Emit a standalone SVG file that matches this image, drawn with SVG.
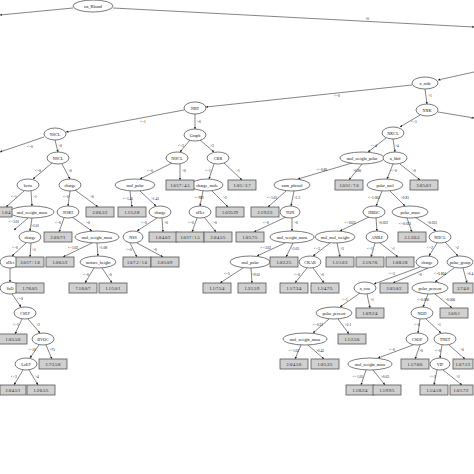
<svg xmlns="http://www.w3.org/2000/svg" width="474" height="474" viewBox="0 0 474 474">
<style>
.n ellipse{fill:#fff;stroke:#222;stroke-width:0.6}
.l rect{fill:#d0d0d0;stroke:#555;stroke-width:0.8}
text{font-family:"Liberation Serif",serif;font-size:4.2px;fill:#111;text-anchor:middle;dominant-baseline:central}
#edges line{stroke:#333;stroke-width:0.6;marker-end:url(#a)}
#edges text{font-size:3.6px}
</style>
<defs><marker id="a" viewBox="0 0 6 6" refX="6" refY="3" markerWidth="4" markerHeight="4" orient="auto"><path d="M0,0L6,3L0,6z" fill="#222"/></marker></defs>
<rect width="474" height="474" fill="#fff"/>
<g id="edges">
<line x1="73" y1="8" x2="0" y2="15"/><line x1="113" y1="8" x2="474" y2="27"/><text x="367" y="19">&gt;0</text>
<line x1="474" y1="72" x2="438" y2="80"/>
<line x1="412" y1="85" x2="206" y2="107"/><text x="337" y="96">&lt;=0</text>
<line x1="425" y1="89" x2="427" y2="104"/><text x="430" y="96">&gt;1</text>
<line x1="438" y1="112" x2="474" y2="118"/>
<line x1="420" y1="115" x2="400" y2="127"/><text x="414" y="122">&lt;=1</text>
<line x1="184" y1="110" x2="66" y2="132"/><text x="143" y="122">&lt;=1</text>
<line x1="195" y1="114" x2="195" y2="129"/><text x="199" y="122">&gt;0</text>
<line x1="44" y1="137" x2="0" y2="152"/><text x="30" y="147">&lt;=0</text>
<line x1="55" y1="140" x2="58" y2="152"/><text x="60" y="146">&gt;0</text>
<line x1="190" y1="140" x2="180" y2="152"/><text x="181" y="146">&lt;=3</text>
<line x1="200" y1="140" x2="214" y2="152"/><text x="212" y="146">&gt;3</text>
<line x1="386" y1="138" x2="368" y2="152"/><text x="374" y="146">&lt;=4</text>
<line x1="393" y1="139" x2="395" y2="152"/><text x="397" y="146">&gt;4</text>
<line x1="52" y1="163" x2="33" y2="179"/><text x="38" y="171">&lt;=0</text>
<line x1="62" y1="164" x2="70" y2="179"/><text x="70" y="171">&gt;0</text>
<line x1="172" y1="163" x2="140" y2="179"/><text x="150" y="171">&lt;=0</text>
<line x1="180" y1="164" x2="180" y2="180"/><text x="184" y="171">&gt;0</text>
<line x1="214" y1="164" x2="209" y2="179"/><text x="208" y="171">&lt;=1</text>
<line x1="224" y1="163" x2="242" y2="180"/><text x="238" y="171">&gt;1</text>
<line x1="352" y1="163" x2="298" y2="179"/><text x="322" y="170">&lt;=0.80</text>
<line x1="362" y1="164" x2="349" y2="180"/><text x="357" y="171">&gt;0.80</text>
<line x1="393" y1="164" x2="387" y2="179"/><text x="394" y="171">&lt;=0</text>
<line x1="400" y1="164" x2="420" y2="180"/><text x="414" y="171">&gt;0</text>
<line x1="24" y1="191" x2="6" y2="207"/><text x="14" y="197">&lt;=1</text>
<line x1="31" y1="191" x2="32" y2="206"/><text x="35" y="197">&gt;1</text>
<line x1="70" y1="191" x2="68" y2="206"/><text x="66" y="197">&lt;=0</text>
<line x1="75" y1="190" x2="98" y2="207"/><text x="92" y="197">&gt;0</text>
<line x1="130" y1="191" x2="132" y2="207"/><text x="128" y="199">&lt;=1.41</text>
<line x1="140" y1="191" x2="156" y2="206"/><text x="155" y="199">&gt;1.41</text>
<line x1="203" y1="191" x2="200" y2="206"/><text x="199" y="198">&lt;=NH</text>
<line x1="212" y1="191" x2="228" y2="207"/><text x="225" y="198">&gt;2</text>
<line x1="286" y1="191" x2="268" y2="207"/><text x="272" y="198">&lt;=1.03</text>
<line x1="294" y1="191" x2="291" y2="206"/><text x="297" y="198">&gt;1.3</text>
<line x1="382" y1="191" x2="376" y2="206"/><text x="374" y="198">&lt;=1.062</text>
<line x1="390" y1="191" x2="405" y2="206"/><text x="405" y="198">&gt;0.81</text>
<line x1="28" y1="218" x2="14" y2="230"/><text x="14" y="222">&lt;=3.01</text>
<line x1="32" y1="218" x2="30" y2="231"/><text x="35" y="226">&gt;3.01</text>
<line x1="64" y1="218" x2="59" y2="232"/><text x="58" y="223">&lt;=0</text>
<line x1="72" y1="217" x2="92" y2="231"/><text x="88" y="223">&gt;0</text>
<line x1="157" y1="218" x2="137" y2="231"/><text x="144" y="223">&lt;=0</text>
<line x1="162" y1="218" x2="163" y2="232"/><text x="166" y="223">&gt;0</text>
<line x1="197" y1="218" x2="192" y2="232"/><text x="191" y="223">&lt;=0</text>
<line x1="204" y1="217" x2="216" y2="232"/><text x="215" y="223">&gt;0</text>
<line x1="286" y1="217" x2="254" y2="232"/><text x="266" y="223">&lt;=0</text>
<line x1="292" y1="218" x2="292" y2="231"/><text x="296" y="223">&gt;0</text>
<line x1="369" y1="217" x2="340" y2="231"/><text x="350" y="223">&lt;=1022</text>
<line x1="376" y1="218" x2="377" y2="231"/><text x="383" y="223">&gt;0.022</text>
<line x1="407" y1="218" x2="412" y2="232"/><text x="405" y="224">&lt;=0.031</text>
<line x1="415" y1="217" x2="436" y2="231"/><text x="432" y="223">&gt;0.031</text>
<line x1="26" y1="243" x2="12" y2="256"/><text x="15" y="248">&lt;=0</text>
<line x1="31" y1="243" x2="30" y2="257"/><text x="34" y="250">&gt;1</text>
<line x1="92" y1="243" x2="63" y2="257"/><text x="73" y="248">&lt;=1.02</text>
<line x1="97" y1="243" x2="98" y2="256"/><text x="103" y="248">&gt;1.08</text>
<line x1="130" y1="243" x2="137" y2="257"/><text x="129" y="250">&lt;=0</text>
<line x1="137" y1="243" x2="163" y2="257"/><text x="155" y="250">&gt;0</text>
<line x1="285" y1="243" x2="257" y2="256"/><text x="266" y="248">&lt;=3.02</text>
<line x1="293" y1="243" x2="286" y2="257"/><text x="295" y="249">&gt;3.03</text>
<line x1="330" y1="243" x2="313" y2="256"/><text x="317" y="249">&lt;=3</text>
<line x1="337" y1="243" x2="340" y2="257"/><text x="342" y="249">&gt;3</text>
<line x1="375" y1="243" x2="371" y2="257"/><text x="370" y="249">&lt;=1</text>
<line x1="380" y1="243" x2="398" y2="257"/><text x="393" y="249">&gt;1</text>
<line x1="437" y1="243" x2="429" y2="256"/><text x="430" y="248">&lt;=2</text>
<line x1="445" y1="242" x2="458" y2="256"/><text x="457" y="248">&gt;2</text>
<line x1="10" y1="268" x2="10" y2="282"/>
<line x1="94" y1="268" x2="85" y2="283"/><text x="86" y="275">&lt;=0</text>
<line x1="102" y1="268" x2="112" y2="283"/><text x="110" y="275">&gt;0</text>
<line x1="243" y1="268" x2="220" y2="283"/><text x="227" y="274">&lt;=5</text>
<line x1="251" y1="268" x2="252" y2="283"/><text x="256" y="275">&gt;9.02</text>
<line x1="307" y1="268" x2="295" y2="283"/><text x="297" y="275">&lt;=0</text>
<line x1="313" y1="268" x2="324" y2="283"/><text x="322" y="275">&gt;0</text>
<line x1="420" y1="267" x2="374" y2="284"/><text x="392" y="274">&lt;=3</text>
<line x1="428" y1="268" x2="393" y2="283"/><text x="420" y="275">&gt;0</text>
<line x1="454" y1="268" x2="435" y2="282"/><text x="440" y="274">&lt;=0.864</text>
<line x1="463" y1="268" x2="467" y2="283"/><text x="470" y="274">&gt;0.4</text>
<line x1="12" y1="294" x2="21" y2="307"/><text x="20" y="299">&lt;=0</text>
<line x1="360" y1="293" x2="340" y2="307"/><text x="345" y="300">&lt;=1</text>
<line x1="367" y1="294" x2="370" y2="308"/><text x="372" y="300">&gt;1</text>
<line x1="428" y1="294" x2="423" y2="307"/><text x="423" y="300">&lt;=0.006</text>
<line x1="435" y1="294" x2="452" y2="308"/><text x="450" y="300">&gt;0.006</text>
<line x1="22" y1="319" x2="15" y2="334"/><text x="16" y="325">&lt;=1</text>
<line x1="28" y1="319" x2="40" y2="333"/><text x="38" y="325">&gt;2</text>
<line x1="329" y1="319" x2="313" y2="333"/><text x="318" y="325">&lt;=0.22</text>
<line x1="338" y1="319" x2="349" y2="334"/><text x="348" y="325">&gt;2.1</text>
<line x1="420" y1="319" x2="418" y2="333"/><text x="417" y="325">&lt;=0</text>
<line x1="426" y1="319" x2="441" y2="333"/><text x="439" y="325">&gt;1</text>
<line x1="39" y1="345" x2="30" y2="358"/><text x="32" y="350">&lt;=10</text>
<line x1="46" y1="345" x2="52" y2="359"/><text x="52" y="350">&gt;75</text>
<line x1="413" y1="345" x2="378" y2="358"/><text x="392" y="350">&lt;=0</text>
<line x1="420" y1="345" x2="415" y2="359"/><text x="421" y="351">&gt;0</text>
<line x1="442" y1="345" x2="440" y2="358"/><text x="438" y="351">&lt;=0</text>
<line x1="449" y1="345" x2="465" y2="359"/><text x="462" y="350">&gt;0</text>
<line x1="301" y1="345" x2="295" y2="359"/><text x="294" y="351">&lt;=1.02</text>
<line x1="308" y1="345" x2="324" y2="359"/><text x="320" y="351">&gt;0.42</text>
<line x1="23" y1="370" x2="14" y2="385"/><text x="14" y="377">&lt;=3</text>
<line x1="29" y1="370" x2="38" y2="385"/><text x="37" y="377">&gt;4</text>
<line x1="366" y1="370" x2="361" y2="385"/><text x="358" y="377">&lt;=1.05</text>
<line x1="373" y1="370" x2="385" y2="385"/><text x="385" y="377">&gt;0.03</text>
<line x1="437" y1="370" x2="434" y2="385"/><text x="433" y="377">&lt;=2</text>
<line x1="443" y1="370" x2="462" y2="385"/><text x="458" y="377">&gt;5</text>
</g>
<g id="nodes">
<g id="n_root" class="n"><ellipse cx="93" cy="6" rx="20" ry="6"/><text x="93" y="6">tot_Kbond</text></g>
<g id="n_nrotb" class="n"><ellipse cx="425" cy="83" rx="13" ry="6"/><text x="425" y="83">n_rotb</text></g>
<g id="n_NRT" class="n"><ellipse cx="195" cy="108" rx="11" ry="6"/><text x="195" y="108">NRT</text></g>
<g id="n_NXK" class="n"><ellipse cx="427" cy="110" rx="11" ry="6"/><text x="427" y="110">NXK</text></g>
<g id="n_NSCL" class="n"><ellipse cx="55" cy="134" rx="11" ry="6"/><text x="55" y="134">NSCL</text></g>
<g id="n_graph" class="n"><ellipse cx="195" cy="135" rx="11" ry="6"/><text x="195" y="135">Graph</text></g>
<g id="n_NKCL" class="n"><ellipse cx="393" cy="133" rx="11" ry="6"/><text x="393" y="133">NKCL</text></g>
<g id="n_NSCL2" class="n"><ellipse cx="58" cy="158" rx="11" ry="6"/><text x="58" y="158">NSCL</text></g>
<g id="n_NHCL" class="n"><ellipse cx="177" cy="158" rx="11" ry="6"/><text x="177" y="158">NHCL</text></g>
<g id="n_CBR" class="n"><ellipse cx="218" cy="158" rx="11" ry="6"/><text x="218" y="158">CBR</text></g>
<g id="n_mwp" class="n"><ellipse cx="362" cy="158" rx="22" ry="6"/><text x="362" y="158">mol_weight_polar</text></g>
<g id="n_nhbd" class="n"><ellipse cx="395" cy="158" rx="12" ry="6"/><text x="395" y="158">n_hbd</text></g>
<g id="n_bertz" class="n"><ellipse cx="28" cy="185" rx="11" ry="6"/><text x="28" y="185">bertz</text></g>
<g id="n_chargt" class="n"><ellipse cx="70" cy="185" rx="11" ry="6"/><text x="70" y="185">charge</text></g>
<g id="n_molp" class="n"><ellipse cx="135" cy="185" rx="20" ry="6"/><text x="135" y="185">mol_polar</text></g>
<g id="n_chm" class="n"><ellipse cx="207" cy="185" rx="16" ry="6"/><text x="207" y="185">charge_mole</text></g>
<g id="n_numphen" class="n"><ellipse cx="292" cy="185" rx="18" ry="6"/><text x="292" y="185">num_phenol</text></g>
<g id="n_polmol" class="n"><ellipse cx="385" cy="185" rx="18" ry="6"/><text x="385" y="185">polar_mol</text></g>
<g id="n_mwm" class="n"><ellipse cx="32" cy="212" rx="22" ry="6"/><text x="32" y="212">mol_weight_mass</text></g>
<g id="n_NSKI" class="n"><ellipse cx="68" cy="212" rx="11" ry="6"/><text x="68" y="212">NSKI</text></g>
<g id="n_charge" class="n"><ellipse cx="160" cy="212" rx="11" ry="6"/><text x="160" y="212">charge</text></g>
<g id="n_nHet" class="n"><ellipse cx="200" cy="212" rx="11" ry="6"/><text x="200" y="212">nHet</text></g>
<g id="n_TON" class="n"><ellipse cx="290" cy="212" rx="10" ry="6"/><text x="290" y="212">TON</text></g>
<g id="n_HBDC" class="n"><ellipse cx="374" cy="212" rx="11" ry="6"/><text x="374" y="212">HBDC</text></g>
<g id="n_polmass" class="n"><ellipse cx="410" cy="212" rx="18" ry="6"/><text x="410" y="212">polar_mass</text></g>
<g id="n_chargt2" class="n"><ellipse cx="30" cy="237" rx="11" ry="6"/><text x="30" y="237">charge</text></g>
<g id="n_mwm2" class="n"><ellipse cx="97" cy="237" rx="22" ry="6"/><text x="97" y="237">mol_weight_mass</text></g>
<g id="n_NSS" class="n"><ellipse cx="133" cy="237" rx="10" ry="6"/><text x="133" y="237">NSS</text></g>
<g id="n_mwm3" class="n"><ellipse cx="292" cy="237" rx="22" ry="6"/><text x="292" y="237">mol_weight_mass</text></g>
<g id="n_mmw" class="n"><ellipse cx="335" cy="237" rx="20" ry="6"/><text x="335" y="237">mol_mol_weight</text></g>
<g id="n_ANBZ" class="n"><ellipse cx="377" cy="237" rx="11" ry="6"/><text x="377" y="237">ANBZ</text></g>
<g id="n_NHCL2" class="n"><ellipse cx="440" cy="237" rx="11" ry="6"/><text x="440" y="237">NHCL</text></g>
<g id="n_e1" class="n"><ellipse cx="10" cy="262" rx="10" ry="6"/><text x="10" y="262">nHet</text></g>
<g id="n_surf" class="n"><ellipse cx="98" cy="262" rx="18" ry="6"/><text x="98" y="262">surface_height</text></g>
<g id="n_molpolar" class="n"><ellipse cx="250" cy="262" rx="20" ry="6"/><text x="250" y="262">mol_polar</text></g>
<g id="n_CKAR" class="n"><ellipse cx="310" cy="262" rx="11" ry="6"/><text x="310" y="262">CKAR</text></g>
<g id="n_charge2" class="n"><ellipse cx="427" cy="262" rx="11" ry="6"/><text x="427" y="262">charge</text></g>
<g id="n_polgrp" class="n"><ellipse cx="460" cy="262" rx="13" ry="6"/><text x="460" y="262">polar_group</text></g>
<g id="n_e2" class="n"><ellipse cx="10" cy="288" rx="10" ry="6"/><text x="10" y="288">SsO</text></g>
<g id="n_nrow" class="n"><ellipse cx="365" cy="288" rx="11" ry="6"/><text x="365" y="288">n_row</text></g>
<g id="n_polperc" class="n"><ellipse cx="430" cy="288" rx="18" ry="6"/><text x="430" y="288">polar_percent</text></g>
<g id="n_CSEF" class="n"><ellipse cx="25" cy="313" rx="11" ry="6"/><text x="25" y="313">CSEF</text></g>
<g id="n_polperc2" class="n"><ellipse cx="334" cy="313" rx="18" ry="6"/><text x="334" y="313">polar_percent</text></g>
<g id="n_NOH" class="n"><ellipse cx="422" cy="313" rx="11" ry="6"/><text x="422" y="313">NOH</text></g>
<g id="n_BVOC" class="n"><ellipse cx="43" cy="339" rx="11" ry="6"/><text x="43" y="339">BVOC</text></g>
<g id="n_mwm4" class="n"><ellipse cx="305" cy="339" rx="22" ry="6"/><text x="305" y="339">mol_weight_mass</text></g>
<g id="n_CSOF" class="n"><ellipse cx="417" cy="339" rx="11" ry="6"/><text x="417" y="339">CSOF</text></g>
<g id="n_TNET" class="n"><ellipse cx="445" cy="339" rx="11" ry="6"/><text x="445" y="339">TNET</text></g>
<g id="n_LoEF" class="n"><ellipse cx="26" cy="364" rx="11" ry="6"/><text x="26" y="364">LoEF</text></g>
<g id="n_mwm5" class="n"><ellipse cx="370" cy="364" rx="22" ry="6"/><text x="370" y="364">mol_weight_mass</text></g>
<g id="n_VIF" class="n"><ellipse cx="440" cy="364" rx="10" ry="6"/><text x="440" y="364">VIF</text></g>
</g>
<g id="leaves" class="l">
<g id="l1"><rect x="166" y="180" width="28" height="10"/><text x="180" y="185">1.0/17 / 4.5</text></g>
<g id="l2"><rect x="228" y="180" width="28" height="10"/><text x="242" y="185">1.0/5 / 2.7</text></g>
<g id="l3"><rect x="335" y="180" width="28" height="10"/><text x="349" y="185">1.0/51 / 7.0</text></g>
<g id="l4"><rect x="410" y="180" width="28" height="10"/><text x="424" y="185">3.0/5.0/1</text></g>
<g id="l5"><rect x="-4" y="207" width="16" height="10"/><text x="6" y="212">1.0/4</text></g>
<g id="l6"><rect x="86" y="207" width="28" height="10"/><text x="100" y="212">2.0/6.3/2</text></g>
<g id="l7"><rect x="118" y="207" width="28" height="10"/><text x="132" y="212">1.1/5.2/8</text></g>
<g id="l8"><rect x="216" y="207" width="28" height="10"/><text x="230" y="212">1.0/25/29</text></g>
<g id="l9"><rect x="251" y="207" width="28" height="10"/><text x="265" y="212">2.1/9.2/3</text></g>
<g id="l10"><rect x="44" y="232" width="28" height="10"/><text x="58" y="237">2.0/0.7/1</text></g>
<g id="l11"><rect x="149" y="232" width="28" height="10"/><text x="163" y="237">1.0/4.0/2</text></g>
<g id="l12"><rect x="176" y="232" width="28" height="10"/><text x="190" y="237">1.0/17 / 1.5</text></g>
<g id="l13"><rect x="204" y="232" width="28" height="10"/><text x="218" y="237">2.0/4.5/5</text></g>
<g id="l14"><rect x="236" y="232" width="28" height="10"/><text x="250" y="237">1.0/5.7/5</text></g>
<g id="l15"><rect x="398" y="232" width="28" height="10"/><text x="412" y="237">2.1.3/6.3</text></g>
<g id="l16"><rect x="16" y="257" width="28" height="10"/><text x="30" y="262">2.0/17 / 1.8</text></g>
<g id="l17"><rect x="46" y="257" width="28" height="10"/><text x="60" y="262">1.0/6.5/2</text></g>
<g id="l18"><rect x="123" y="257" width="28" height="10"/><text x="137" y="262">1.0/7.2 / 1.6</text></g>
<g id="l19"><rect x="151" y="257" width="28" height="10"/><text x="165" y="262">2.0/5.0/9</text></g>
<g id="l20"><rect x="270" y="257" width="28" height="10"/><text x="284" y="262">1.0/2.2/5</text></g>
<g id="l21"><rect x="326" y="257" width="28" height="10"/><text x="340" y="262">1.1/1.0/3</text></g>
<g id="l22"><rect x="356" y="257" width="28" height="10"/><text x="370" y="262">2.1/0.7/6</text></g>
<g id="l23"><rect x="386" y="257" width="28" height="10"/><text x="400" y="262">1.0/8.1/8</text></g>
<g id="l24"><rect x="16" y="283" width="28" height="10"/><text x="30" y="288">1.7/6.0/5</text></g>
<g id="l25"><rect x="69" y="283" width="28" height="10"/><text x="83" y="288">7.1/6.0/7</text></g>
<g id="l26"><rect x="99" y="283" width="28" height="10"/><text x="113" y="288">1.1/5.0/1</text></g>
<g id="l27"><rect x="203" y="283" width="28" height="10"/><text x="217" y="288">1.1/7.5/4</text></g>
<g id="l28"><rect x="238" y="283" width="28" height="10"/><text x="252" y="288">1.3/1.5/9</text></g>
<g id="l29"><rect x="280" y="283" width="28" height="10"/><text x="294" y="288">1.1/7.3/4</text></g>
<g id="l30"><rect x="311" y="283" width="28" height="10"/><text x="325" y="288">1.1/4.7/5</text></g>
<g id="l31"><rect x="380" y="283" width="28" height="10"/><text x="394" y="288">2.0/5.0/2</text></g>
<g id="l32"><rect x="453" y="283" width="20" height="10"/><text x="463" y="288">3.7/4.0</text></g>
<g id="l33"><rect x="356" y="308" width="28" height="10"/><text x="370" y="313">1.0/9.2/4</text></g>
<g id="l34"><rect x="440" y="308" width="28" height="10"/><text x="454" y="313">2.0/0.1</text></g>
<g id="l35"><rect x="-1" y="334" width="28" height="10"/><text x="13" y="339">1.0/5.5/6</text></g>
<g id="l36"><rect x="338" y="334" width="28" height="10"/><text x="352" y="339">1.1/2.5/6</text></g>
<g id="l37"><rect x="39" y="359" width="28" height="10"/><text x="53" y="364">2.7/3.5/8</text></g>
<g id="l38"><rect x="280" y="359" width="28" height="10"/><text x="294" y="364">2.0/4.5/6</text></g>
<g id="l39"><rect x="311" y="359" width="28" height="10"/><text x="325" y="364">1.0/5.3/5</text></g>
<g id="l40"><rect x="401" y="359" width="28" height="10"/><text x="415" y="364">1.1/7.8/6</text></g>
<g id="l41"><rect x="453" y="359" width="20" height="10"/><text x="463" y="364">1.0/7.1/2</text></g>
<g id="l42"><rect x="0" y="385" width="26" height="10"/><text x="13" y="390">2.0/4.5/1</text></g>
<g id="l43"><rect x="27" y="385" width="28" height="10"/><text x="41" y="390">1.2/6.5/5</text></g>
<g id="l44"><rect x="346" y="385" width="28" height="10"/><text x="360" y="390">1.1/8.2/4</text></g>
<g id="l45"><rect x="373" y="385" width="28" height="10"/><text x="387" y="390">1.1/9.9/5</text></g>
<g id="l46"><rect x="420" y="385" width="28" height="10"/><text x="434" y="390">1.1/4.1/8</text></g>
<g id="l47"><rect x="450" y="385" width="23" height="10"/><text x="461" y="390">1.0/1.7/2</text></g>
</g>
</svg>
